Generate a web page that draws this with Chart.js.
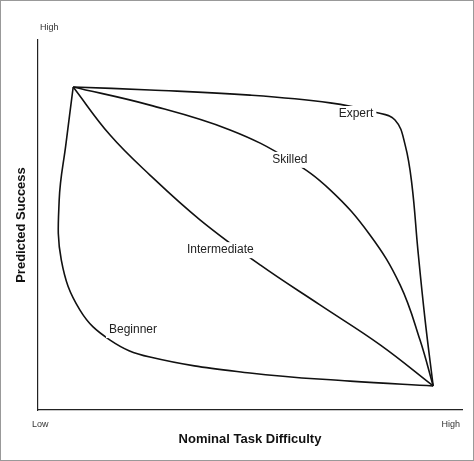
<!DOCTYPE html>
<html>
<head>
<meta charset="utf-8">
<script src="https://cdn.jsdelivr.net/npm/chart.js@4"></script>
<style>
  html, body { margin: 0; padding: 0; background: #fff; }
  #wrap { width: 472px; height: 459px; border: 1px solid #999; }
</style>
</head>
<body>
<div id="wrap"><canvas id="plotChart" width="472" height="459"></canvas></div>
<script>
// Curves (x = difficulty 0-100, y = success 0-100)
const expertX = [8.3, 26.4, 50, 68.9, 79.5, 84.2, 86.6, 88.2, 89.6, 91.3, 93.2];
const expertY = [87.3, 86.5, 85.1, 83, 80.5, 78.4, 71.6, 60.8, 43.2, 24.3, 6.5];
const skilledX = [8.3, 26.4, 45.3, 59.4, 68.9, 78.3, 85.4, 90.1, 93.2];
const skilledY = [87.3, 82.4, 75.7, 67.6, 59.5, 47.3, 33.8, 18.9, 6.5];
const intermediateX = [8.3, 17, 26.4, 38.2, 52.4, 66.5, 80.7, 93.2];
const intermediateY = [87.3, 74.3, 63.5, 51.4, 39.2, 28.4, 17.6, 6.5];
const beginnerX = [8.3, 6.6, 5, 5.5, 9.9, 17, 26.4, 50, 73.6, 93.2];
const beginnerY = [87.3, 72, 56.8, 40.5, 27, 18.9, 14.3, 10, 7.8, 6.5];

// label text and where it sits on its curve
const curveLabels = ["Expert", "Skilled", "Intermediate", "Beginner"];
const labelX = [75, 59.4, 43, 22.4];
const labelY = [80, 67.6, 43.2, 21.6];

const toPoints = (xs, ys) => xs.map((x, i) => ({ x: x, y: ys[i] }));

const curveStyle = {
  borderColor: "#111",
  borderWidth: 1.6,
  pointRadius: 0,
  showLine: true,
  tension: 0.4,
  fill: false,
};

// Draw curve names (on white so the line is broken) and axis words
const annotate = {
  id: "annotate",
  afterDatasetsDraw(chart) {
    const c = chart.ctx;
    const xs = chart.scales.x, ys = chart.scales.y;
    c.save();
    c.font = "12px 'Liberation Sans', Arial, sans-serif";
    c.textAlign = "center";
    c.textBaseline = "middle";
    curveLabels.forEach((t, i) => {
      const px = xs.getPixelForValue(labelX[i]);
      const py = ys.getPixelForValue(labelY[i]);
      const w = c.measureText(t).width + 6;
      c.fillStyle = "#fff";
      c.fillRect(px - w / 2, py - 8, w, 16);
      c.fillStyle = "#222";
      c.fillText(t, px, py);
    });
    const a = chart.chartArea;
    c.font = "9px 'Liberation Sans', Arial, sans-serif";
    c.fillStyle = "#333";
    c.textAlign = "left";
    c.fillText("High", a.left + 2, a.top - 12);
    c.fillText("Low", a.left - 6, a.bottom + 15);
    c.textAlign = "right";
    c.fillText("High", a.right - 2, a.bottom + 15);
    c.font = "bold 13px 'Liberation Sans', Arial, sans-serif";
    c.fillStyle = "#111";
    c.textAlign = "center";
    c.fillText("Nominal Task Difficulty", (a.left + a.right) / 2, a.bottom + 29);
    c.translate(a.left - 17, (a.top + a.bottom) / 2);
    c.rotate(-Math.PI / 2);
    c.fillText("Predicted Success", 0, 0);
    c.restore();
  },
};

var ctx = document.getElementById("plotChart").getContext("2d");
new Chart(ctx, {
  type: "scatter",
  data: {
    datasets: [
      { ...curveStyle, data: toPoints(expertX, expertY) },
      { ...curveStyle, data: toPoints(skilledX, skilledY) },
      { ...curveStyle, data: toPoints(intermediateX, intermediateY) },
      { ...curveStyle, data: toPoints(beginnerX, beginnerY) },
    ],
  },
  options: {
    responsive: false,
    animation: false,
    layout: { padding: { left: 37, top: 39, right: 11, bottom: 50 } },
    plugins: { legend: { display: false }, tooltip: { enabled: false } },
    scales: {
      x: {
        min: 0, max: 100,
        ticks: { display: false },
        grid: { display: false, drawTicks: false },
        border: { color: "#222", width: 1.2 },
        afterFit: (s) => { s.height = 0; },
      },
      y: {
        min: 0, max: 100,
        ticks: { display: false },
        grid: { display: false, drawTicks: false },
        border: { color: "#222", width: 1.2 },
        afterFit: (s) => { s.width = 0; },
      },
    },
  },
  plugins: [annotate],
});
</script>
</body>
</html>
